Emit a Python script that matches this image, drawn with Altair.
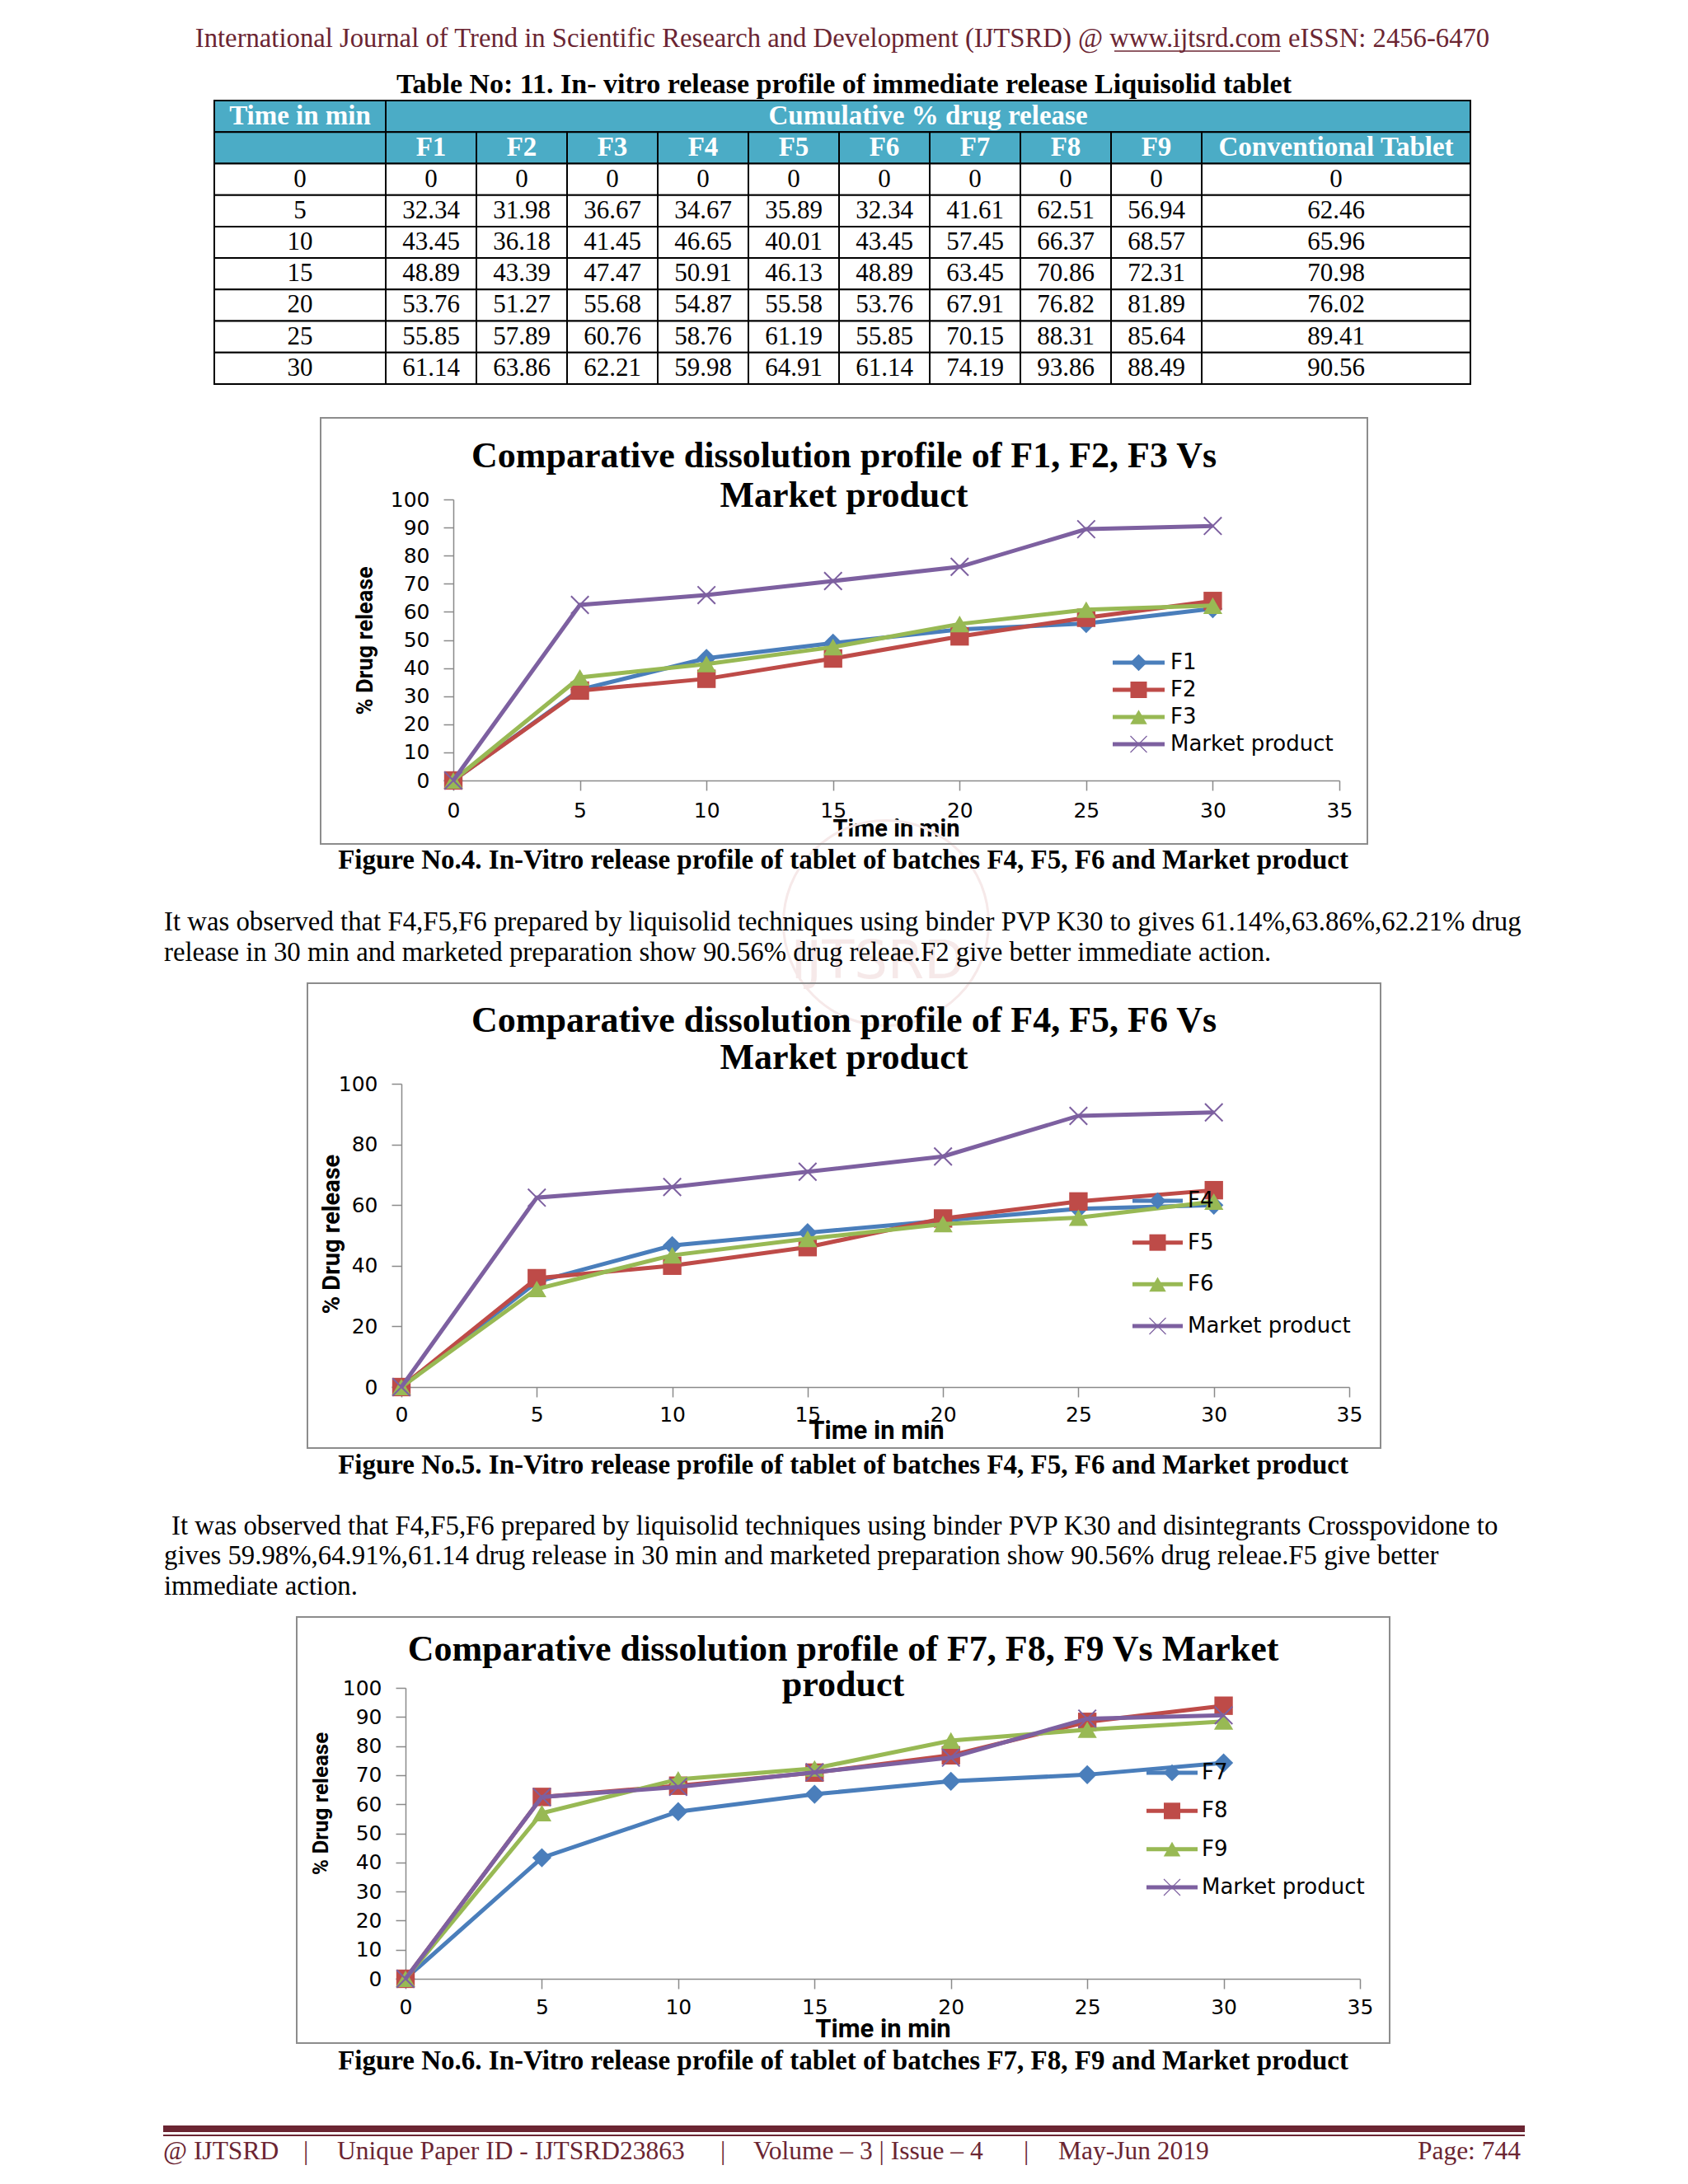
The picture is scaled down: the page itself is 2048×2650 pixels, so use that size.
import altair as alt
import pandas as pd

# ---------------- data (read from the page) ----------------
times = [0, 5, 10, 15, 20, 25, 30]
F1 = [0, 32.34, 43.45, 48.89, 53.76, 55.85, 61.14]
F2 = [0, 31.98, 36.18, 43.39, 51.27, 57.89, 63.86]
F3 = [0, 36.67, 41.45, 47.47, 55.68, 60.76, 62.21]
F4 = [0, 34.67, 46.65, 50.91, 54.87, 58.76, 59.98]
F5 = [0, 35.89, 40.01, 46.13, 55.58, 61.19, 64.91]
F6 = [0, 32.34, 43.45, 48.89, 53.76, 55.85, 61.14]
F7 = [0, 41.61, 57.45, 63.45, 67.91, 70.15, 74.19]
F8 = [0, 62.51, 66.37, 70.86, 76.82, 88.31, 93.86]
F9 = [0, 56.94, 68.57, 72.31, 81.89, 85.64, 88.49]
conventional = [0, 62.46, 65.96, 70.98, 76.02, 89.41, 90.56]

table_names = ["F1", "F2", "F3", "F4", "F5", "F6", "F7", "F8", "F9", "Conventional Tablet"]
table_values = [F1, F2, F3, F4, F5, F6, F7, F8, F9, conventional]
market_label = "Market product"

header_text = ("International Journal of Trend in Scientific Research and Development (IJTSRD) "
               "@ www.ijtsrd.com eISSN: 2456-6470")
table_title = "Table No: 11. In- vitro release profile of immediate release Liquisolid tablet"
para1 = ["It was observed that F4,F5,F6 prepared by liquisolid techniques using binder PVP K30 to gives 61.14%,63.86%,62.21% drug",
         "release in 30 min and marketed preparation show 90.56% drug releae.F2 give better immediate action."]
para2 = ["It was observed that F4,F5,F6 prepared by liquisolid techniques using binder PVP K30 and disintegrants Crosspovidone to",
         "gives 59.98%,64.91%,61.14 drug release in 30 min and marketed preparation show 90.56% drug releae.F5 give better",
         "immediate action."]
footer_items = ["@ IJTSRD", "|", "Unique Paper ID - IJTSRD23863", "|", "Volume \u2013 3 | Issue \u2013 4", "|", "May-Jun 2019"]
footer_page = "Page: 744"
watermark = "IJTSRD"

# ---------------- styles / layout ----------------
SERIF = "Liberation Serif"
SANS = "DejaVu Sans"
SANSB = "Roboto"
MAROON = "#6b2532"
TEAL = "#4bacc6"
GRAY = "#8a8a8a"
FAINT = "#f6e9e9"
COLORS = ["#4a7ebb", "#be4b48", "#98b954", "#7d60a0"]
SHAPES = ["diamond", "square", "triangle-up"]
XPATH = "M-1,-1L1,1M-1,1L1,-1"
OFF = 8
W, H = 2032, 2634

layers = []


def text(s, x, y, size, font=SERIF, bold=False, color="#000000", align="center", angle=0):
    kw = dict(fontSize=size, font=font, color=color, align=align, baseline="middle",
              fontWeight="bold" if bold else "normal")
    if angle:
        kw["angle"] = angle
    return alt.Chart(pd.DataFrame({"s": [s]})).mark_text(**kw).encode(
        text="s:N", x=alt.value(x - OFF), y=alt.value(y - OFF))


def box(x1, y1, x2, y2, stroke, sw, fill=None):
    kw = dict(stroke=stroke, strokeWidth=sw)
    if fill:
        kw["fill"] = fill
    else:
        kw["fillOpacity"] = 0
    return alt.Chart(pd.DataFrame({"a": [0]})).mark_rect(**kw).encode(
        x=alt.value(x1 - OFF), x2=alt.value(x2 - OFF), y=alt.value(y1 - OFF), y2=alt.value(y2 - OFF))


# ---------------- faint watermark ----------------
layers.append(alt.Chart(pd.DataFrame({"a": [0]})).mark_point(
    shape="circle", filled=False, color=FAINT, strokeWidth=3, size=62000, opacity=1).encode(
    x=alt.value(1075 - OFF), y=alt.value(1120 - OFF)))
layers.append(text(watermark, 1065, 1168, 64, font=SANS, color=FAINT))

# ---------------- header ----------------
layers.append(text(header_text, 1022, 47, 32.7, color=MAROON))
layers.append(alt.Chart(pd.DataFrame({"a": [0]})).mark_rule(color=MAROON, strokeWidth=1.5).encode(
    x=alt.value(1352 - OFF), x2=alt.value(1553 - OFF), y=alt.value(62 - OFF)))
layers.append(text(table_title, 1024, 103, 34, bold=True))

# ---------------- table ----------------
col_w = [208] + [110] * 9 + [326]
edges = [0]
for w in col_w:
    edges.append(edges[-1] + w)
TX0, TY0, TY1 = 260, 122, 466
xs_t = alt.Scale(domain=[0, edges[-1]], range=[TX0 - OFF, TX0 + edges[-1] - OFF], nice=False, zero=False)
ys_t = alt.Scale(domain=[0, 9], range=[TY0 - OFF, TY1 - OFF], nice=False, zero=False)

head_cells = [dict(c0=edges[0], c1=edges[1], r0=0, r1=1, label="Time in min"),
              dict(c0=edges[1], c1=edges[-1], r0=0, r1=1, label="Cumulative % drug release"),
              dict(c0=edges[0], c1=edges[1], r0=1, r1=2, label="")]
for k, nm in enumerate(table_names):
    head_cells.append(dict(c0=edges[k + 1], c1=edges[k + 2], r0=1, r1=2, label=nm))
data_cells = []
for r, t in enumerate(times):
    data_cells.append(dict(c0=edges[0], c1=edges[1], r0=r + 2, r1=r + 3, label=str(t)))
    for k, vals in enumerate(table_values):
        v = vals[r]
        data_cells.append(dict(c0=edges[k + 1], c1=edges[k + 2], r0=r + 2, r1=r + 3,
                               label=("%.2f" % v) if v else "0"))
hdf = pd.DataFrame(head_cells)
ddf = pd.DataFrame(data_cells)
for df in (hdf, ddf):
    df["cx"] = (df["c0"] + df["c1"]) / 2
    df["cy"] = (df["r0"] + df["r1"]) / 2


def tenc(mark):
    return mark.encode(
        x=alt.X("c0:Q", scale=xs_t, axis=None), x2="c1:Q",
        y=alt.Y("r0:Q", scale=ys_t, axis=None), y2="r1:Q")


def ttext(mark):
    return mark.encode(
        x=alt.X("cx:Q", scale=xs_t, axis=None), y=alt.Y("cy:Q", scale=ys_t, axis=None), text="label:N")


layers.append(tenc(alt.Chart(hdf).mark_rect(fill=TEAL, stroke="#000000", strokeWidth=2)))
layers.append(tenc(alt.Chart(ddf).mark_rect(fill="#ffffff", stroke="#000000", strokeWidth=2)))
layers.append(ttext(alt.Chart(hdf).mark_text(font=SERIF, fontSize=33, fontWeight="bold",
                                             color="#ffffff", baseline="middle")))
layers.append(ttext(alt.Chart(ddf).mark_text(font=SERIF, fontSize=31, color="#000000",
                                             baseline="middle")))

# ---------------- line charts ----------------
charts = [
    dict(names=["F1", "F2", "F3"], vals=[F1, F2, F3], x0=550, x35=1625, y0=947, y100=606, ystep=10,
         frame=(389, 507, 1659, 1024),
         title=["Comparative dissolution profile of F1, F2, F3 Vs", "Market product"], title_y=[554, 602],
         leg=(1350, 1413, 1420, 804, 903), xlab_pad=14, xtitle=(1087, 1005, 29), ytitle=(443, 777, 27),
         caption="Figure No.4. In-Vitro release profile of tablet of batches F4, F5, F6 and Market product",
         cap_y=1044),
    dict(names=["F4", "F5", "F6"], vals=[F4, F5, F6], x0=487, x35=1637, y0=1683, y100=1315, ystep=20,
         frame=(373, 1193, 1675, 1757),
         title=["Comparative dissolution profile of F4, F5, F6 Vs", "Market product"], title_y=[1239, 1284],
         leg=(1374, 1435, 1441, 1457, 1609), xlab_pad=11, xtitle=(1063, 1736, 31), ytitle=(402, 1497, 29),
         caption="Figure No.5. In-Vitro release profile of tablet of batches F4, F5, F6 and Market product",
         cap_y=1778),
    dict(names=["F7", "F8", "F9"], vals=[F7, F8, F9], x0=492, x35=1650, y0=2401, y100=2048, ystep=10,
         frame=(360, 1962, 1686, 2479),
         title=["Comparative dissolution profile of F7, F8, F9 Vs Market", "product"], title_y=[2002, 2045],
         leg=(1391, 1453, 1458, 2151, 2290), xlab_pad=12, xtitle=(1071, 2462, 31), ytitle=(389, 2188, 26),
         caption="Figure No.6. In-Vitro release profile of tablet of batches F7, F8, F9 and Market product",
         cap_y=2501),
]

for c in charts:
    fx1, fy1, fx2, fy2 = c["frame"]
    layers.append(box(fx1, fy1, fx2, fy2, "#8c8c8c", 2))
    for s, ty in zip(c["title"], c["title_y"]):
        layers.append(text(s, (fx1 + fx2) / 2, ty, 44, bold=True))

    xs = alt.Scale(domain=[0, 35], range=[c["x0"] - OFF, c["x35"] - OFF], nice=False, zero=False)
    ys = alt.Scale(domain=[0, 100], range=[c["y0"] - OFF, c["y100"] - OFF], nice=False, zero=False)
    xt_x, xt_y, xt_s = c["xtitle"]
    yt_x, yt_y, yt_s = c["ytitle"]
    xaxis = alt.Axis(orient="bottom", offset=(c["y0"] - OFF) - H, values=list(range(0, 36, 5)),
                     tickSize=12, tickColor=GRAY, tickWidth=1.5, domainColor=GRAY, domainWidth=1.5,
                     labelFont=SANS, labelFontSize=25, labelColor="#000000", labelPadding=c["xlab_pad"] - 2,
                     labelFlush=False, labelOverlap=False, grid=False, format="d",
                     title="Time in min", titleFont=SANSB, titleFontWeight="bold", titleFontSize=xt_s,
                     titleColor="#000000", titleX=xt_x - OFF, titleY=xt_y - c["y0"],
                     titleAlign="center", titleBaseline="middle")
    yaxis = alt.Axis(orient="left", offset=-(c["x0"] - OFF), values=list(range(0, 101, c["ystep"])),
                     tickSize=12, tickColor=GRAY, tickWidth=1.5, domainColor=GRAY, domainWidth=1.5,
                     labelFont=SANS, labelFontSize=25, labelColor="#000000", labelPadding=17,
                     labelFlush=False, labelOverlap=False, grid=False, format="d",
                     title="% Drug release", titleFont=SANSB, titleFontWeight="bold", titleFontSize=yt_s,
                     titleColor="#000000", titleX=yt_x - c["x0"],
                     titleY=yt_y - OFF, titleAngle=270,
                     titleAlign="center", titleBaseline="middle")

    all_names = c["names"] + [market_label]
    all_vals = c["vals"] + [conventional]
    for i, (nm, vals) in enumerate(zip(all_names, all_vals)):
        df = pd.DataFrame({"time": times, "release": vals})
        X = alt.X("time:Q", scale=xs, axis=xaxis if i == 0 else None)
        Y = alt.Y("release:Q", scale=ys, axis=yaxis if i == 0 else None)
        Xn = alt.X("time:Q", scale=xs, axis=None)
        Yn = alt.Y("release:Q", scale=ys, axis=None)
        layers.append(alt.Chart(df).mark_line(color=COLORS[i], strokeWidth=5).encode(x=X, y=Y))
        if i < 3:
            pm = alt.Chart(df).mark_point(shape=SHAPES[i], filled=True, opacity=1, color=COLORS[i],
                                          size=[540, 500, 540][i])
        else:
            pm = alt.Chart(df).mark_point(shape=XPATH, filled=False, opacity=1, color=COLORS[i],
                                          strokeWidth=2, size=460)
        layers.append(pm.encode(x=Xn, y=Yn))

    # legend
    lx1, lx2, ltx, lyt, lyb = c["leg"]
    lscale = alt.Scale(type="point", domain=all_names, range=[lyt - OFF, lyb - OFF], padding=0)
    for i, nm in enumerate(all_names):
        df = pd.DataFrame({"label": [nm]})
        LY = alt.Y("label:N", scale=lscale, axis=None)
        layers.append(alt.Chart(df).mark_rule(color=COLORS[i], strokeWidth=5).encode(
            x=alt.value(lx1 - OFF), x2=alt.value(lx2 - OFF), y=LY))
        if i < 3:
            pm = alt.Chart(df).mark_point(shape=SHAPES[i], filled=True, opacity=1, color=COLORS[i],
                                          size=[420, 400, 420][i])
        else:
            pm = alt.Chart(df).mark_point(shape=XPATH, filled=False, opacity=1, color=COLORS[i],
                                          strokeWidth=1.2, size=400)
        layers.append(pm.encode(x=alt.value((lx1 + lx2) / 2 - OFF), y=LY))
    ldf = pd.DataFrame({"label": all_names})
    layers.append(alt.Chart(ldf).mark_text(font=SANS, fontSize=26, align="left", baseline="middle",
                                           color="#000000").encode(
        text="label:N", x=alt.value(ltx - OFF),
        y=alt.Y("label:N", scale=lscale, axis=None)))

    layers.append(text(c["caption"], 1023, c["cap_y"], 33, bold=True))

# ---------------- paragraphs ----------------
for s, y in zip(para1, [1119, 1156]):
    layers.append(text(s, 199, y, 32.8, align="left"))
for s, y, x in zip(para2, [1852, 1888, 1925], [208, 199, 199]):
    layers.append(text(s, x, y, 32.8, align="left"))

# ---------------- footer ----------------
layers.append(box(198, 2579, 1850, 2587, MAROON, 0, fill=MAROON))
layers.append(alt.Chart(pd.DataFrame({"a": [0]})).mark_rule(color=MAROON, strokeWidth=2).encode(
    x=alt.value(198 - OFF), x2=alt.value(1850 - OFF), y=alt.value(2591 - OFF)))
for s, x in zip(footer_items, [198, 368, 409, 874, 914, 1242, 1284]):
    layers.append(text(s, x, 2611, 31.5, color=MAROON, align="left"))
layers.append(text(footer_page, 1845, 2611, 31.5, color=MAROON, align="right"))

chart = alt.layer(*layers).resolve_scale(x="independent", y="independent").properties(
    width=W, height=H, padding=0, autosize=alt.AutoSizeParams(type="none"),
    background="#ffffff").configure_view(strokeWidth=0)

chart.save("out.html", embed_options={"renderer": "svg", "actions": False})
